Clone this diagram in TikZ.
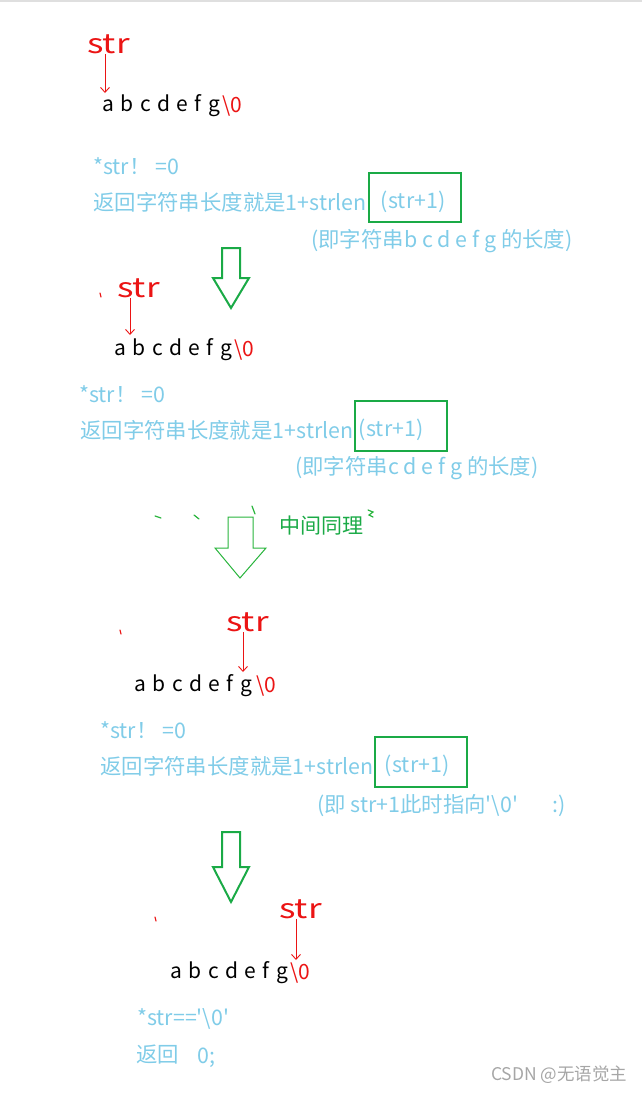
\documentclass[tikz,border=0pt]{standalone}
\usepackage{fontspec}
\usepackage{xcolor}
\usepackage{tikz}
\usetikzlibrary{positioning,arrows.meta}
\newfontfamily\yahei{Noto Sans CJK SC}
\newcommand\widespace{\spaceskip 6.5pt\relax}
\definecolor{remarkblue}{RGB}{128,204,232}
\definecolor{boxgreen}{RGB}{26,170,70}
\definecolor{pengreen}{RGB}{40,180,60}
\definecolor{penred}{RGB}{235,20,20}
\tikzstyle{every node}=[inner sep=0pt,anchor=west]
\tikzstyle{chars}=[font=\yahei\fontsize{21}{23}\selectfont\widespace]
\tikzstyle{nul}=[text=penred,font=\yahei\fontsize{21}{23}\selectfont]
\tikzstyle{remark}=[text=remarkblue,font=\yahei\fontsize{21.4}{24}\selectfont]
\tikzstyle{pen}=[text=penred,font=\yahei\fontsize{27}{30}\selectfont]
\tikzstyle{ptr}=[draw=penred,-{Straight Barb[length=5pt,width=9pt]},line width=0.9pt]
\tikzstyle{hilite}=[draw=boxgreen,line width=2pt]
\tikzstyle{blockarrow}=[draw=boxgreen,line width=2pt,line join=miter]
\tikzstyle{speck}=[line width=1.2pt,line cap=round]

\begin{document}
\begin{tikzpicture}[x=1pt,y=-1pt]
    \useasboundingbox (0,0) rectangle (642,1093);
    \draw[gray!25,line width=2pt] (0,1) -- (642,1);

    % first step
    \node[pen] (s1) at (87,44) {\scalebox{1.3}[1]{str}};
    \coordinate (t1) at (105,93);
    \draw[ptr] (t1 |- s1.south) -- (t1);
    \node[chars] (a1) at (102,106) {a b c d e f g};
    \node[nul,right=2pt of a1] (z1) {\textbackslash 0};
    \node[remark] (c1) at (93,166) {*str！\ =0};
    \node[remark] (r1) at (93,202) {返回字符串长度就是1+strlen};
    \node[remark] (p1) at (380,202) {(\kern1pt str+1)};
    \draw[hilite] (369,173) rectangle (461,222);
    \node[remark] (l1) at (311,241) {(即字符串b c d e f g 的长度)};

    \draw[blockarrow] (222,248) -- (240,248) -- (240,278) -- (249,278)
        -- (231,308) -- (213,278) -- (222,278) -- cycle;

    % second step
    \draw[penred,speck] (100,293) -- (101,297);
    \node[pen] (s2) at (117,288) {\scalebox{1.3}[1]{str}};
    \coordinate (t2) at (130,335);
    \draw[ptr] (t2 |- s2.south) -- (t2);
    \node[chars] (a2) at (114,350) {a b c d e f g};
    \node[nul,right=2pt of a2] (z2) {\textbackslash 0};
    \node[remark] (c2) at (79,394) {*str！\ =0};
    \node[remark] (r2) at (80,430) {返回字符串长度就是1+strlen};
    \node[remark] (p2) at (358,430) {(\kern1pt str+1)};
    \draw[hilite] (355,401) rectangle (447,451);
    \node[remark] (l2) at (295,468) {(即字符串c d e f g 的长度)};

    \draw[blockarrow,draw=pengreen,line width=1pt] (228,517) -- (253,517) -- (253,548) -- (266,548)
        -- (240,578) -- (215,548) -- (228,548) -- cycle;
    \node[text=boxgreen,font=\yahei\fontsize{21}{24}\selectfont] (mid) at (279,526) {中间同理};
    \draw[pengreen,speck] (155,516) -- (161,518);
    \draw[pengreen,speck] (194,515) -- (199,519);
    \draw[pengreen,speck] (252,506) -- (255,514);
    \draw[pengreen,speck] (368,510) -- (373,512) -- (369,515) -- (373,517);

    % third step
    \draw[penred,speck] (120,630) -- (121,634);
    \node[pen] (s3) at (226,622) {\scalebox{1.3}[1]{str}};
    \coordinate (t3) at (243,672);
    \draw[ptr] (t3 |- s3.south) -- (t3);
    \node[chars] (a3) at (134,686) {a b c d e f g};
    \node[nul,right=4pt of a3] (z3) {\textbackslash 0};
    \node[remark] (c3) at (100,730) {*str！\ =0};
    \node[remark] (r3) at (100,766) {返回字符串长度就是1+strlen};
    \node[remark] (p3) at (384,766) {(\kern1pt str+1)};
    \draw[hilite] (375,737) rectangle (467,787);
    \node[remark] (l3) at (317,806) {(即 str+1此时指向'\textbackslash 0'};
    \node[remark] (e3) at (552,806) {:)};

    \draw[blockarrow] (222,832) -- (240,832) -- (240,867) -- (249,867)
        -- (231,902) -- (213,867) -- (222,867) -- cycle;

    % last step
    \draw[penred,speck] (155,917) -- (156,921);
    \node[pen] (s4) at (279,909) {\scalebox{1.3}[1]{str}};
    \coordinate (t4) at (296,960);
    \draw[ptr] (t4 |- s4.south) -- (t4);
    \node[chars] (a4) at (170,973) {a b c d e f g};
    \node[nul,right=2pt of a4] (z4) {\textbackslash 0};
    \node[remark] (c4) at (137,1019) {*str=='\textbackslash 0'};
    \node[remark] (r4) at (136,1055) {返回};
    \node[remark] (v4) at (197,1058) {0;};

    \node[text=gray!70,font=\yahei\fontsize{17.5}{20}\selectfont] (mark) at (491,1075) {CSDN @无语觉主};
\end{tikzpicture}
\end{document}
